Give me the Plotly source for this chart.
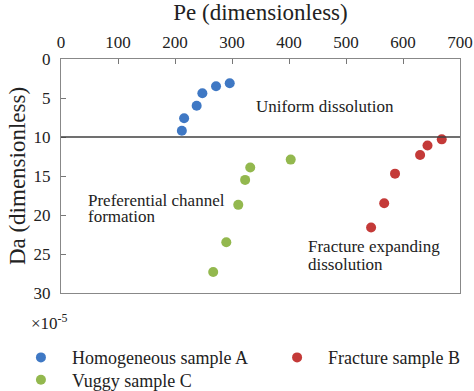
import plotly.graph_objects as go

# Data
pe_a = [296, 272, 248, 238, 216, 212]
da_a = [3.1, 3.5, 4.4, 6.0, 7.6, 9.2]

pe_b = [668, 643, 630, 586, 567, 544]
da_b = [10.3, 11.1, 12.3, 14.7, 18.5, 21.6]

pe_c = [403, 332, 323, 311, 290, 267]
da_c = [12.9, 13.9, 15.5, 18.7, 23.5, 27.3]

x_ticks = [0, 100, 200, 300, 400, 500, 600, 700]
y_ticks = [0, 5, 10, 15, 20, 25, 30]

FONT = "Liberation Serif, Times New Roman, serif"
TXT = "#222222"
C_A = "#3F78C4"
C_B = "#C43A38"
C_C = "#93B84E"

fig = go.Figure()
fig.add_trace(go.Scatter(x=pe_a, y=da_a, mode="markers", name="Homogeneous sample A",
                         marker=dict(color=C_A, size=10), legend="legend"))
fig.add_trace(go.Scatter(x=pe_b, y=da_b, mode="markers", name="Fracture sample B",
                         marker=dict(color=C_B, size=10), legend="legend2"))
fig.add_trace(go.Scatter(x=pe_c, y=da_c, mode="markers", name="Vuggy sample C",
                         marker=dict(color=C_C, size=10), legend="legend3"))

fig.add_shape(type="line", xref="x", yref="y", x0=0, x1=700, y0=10, y1=10,
              line=dict(color="#404040", width=1.3))

ann_font = dict(family=FONT, size=17, color=TXT)
labels = [
    (340, 6.1, "Uniform dissolution"),
    (45, 18.1, "Preferential channel"),
    (45, 20.2, "formation"),
    (431, 24.1, "Fracture expanding"),
    (431, 26.4, "dissolution"),
]
for lx, ly, lt in labels:
    fig.add_annotation(x=lx, y=ly, text=lt, showarrow=False, borderpad=0,
                       xanchor="left", yanchor="middle", font=ann_font)

fig.add_annotation(xref="paper", yref="paper", x=-0.03, y=-0.125, text="×10<sup>-5</sup>",
                   showarrow=False, xanchor="center", yanchor="middle",
                   font=dict(family=FONT, size=17, color=TXT))

leg_common = dict(orientation="v", xanchor="left", yanchor="middle", itemwidth=52,
                  bgcolor="rgba(0,0,0,0)", font=dict(family=FONT, size=18, color=TXT))

fig.update_layout(
    width=474, height=391,
    margin=dict(l=61, r=14, t=59, b=98, autoexpand=False),
    paper_bgcolor="white", plot_bgcolor="white",
    font=dict(family=FONT, color=TXT),
    showlegend=True,
    legend=dict(x=-0.128, y=-0.2765, **leg_common),
    legend2=dict(x=0.514, y=-0.2765, **leg_common),
    legend3=dict(x=-0.128, y=-0.372, **leg_common),
    xaxis=dict(side="top", range=[0, 700], tickvals=x_ticks, ticks="inside", ticklen=5,
               tickcolor="#777", showline=True, linecolor="#888", linewidth=1.3, mirror=True,
               showgrid=False, zeroline=False, ticklabelstandoff=3,
               tickfont=dict(family=FONT, size=17, color=TXT),
               title=dict(text="Pe (dimensionless)", font=dict(family=FONT, size=23, color=TXT),
                          standoff=10)),
    yaxis=dict(range=[30, 0], tickvals=y_ticks, ticks="inside", ticklen=5,
               tickcolor="#777", showline=True, linecolor="#888", linewidth=1.3, mirror=True,
               showgrid=False, zeroline=False, ticklabelstandoff=6,
               tickfont=dict(family=FONT, size=17, color=TXT),
               title=dict(text="Da (dimensionless)", font=dict(family=FONT, size=23, color=TXT),
                          standoff=1)),
)

fig.write_html("out.html", config={"displayModeBar": False},
               post_script="document.body.style.margin='0';")
